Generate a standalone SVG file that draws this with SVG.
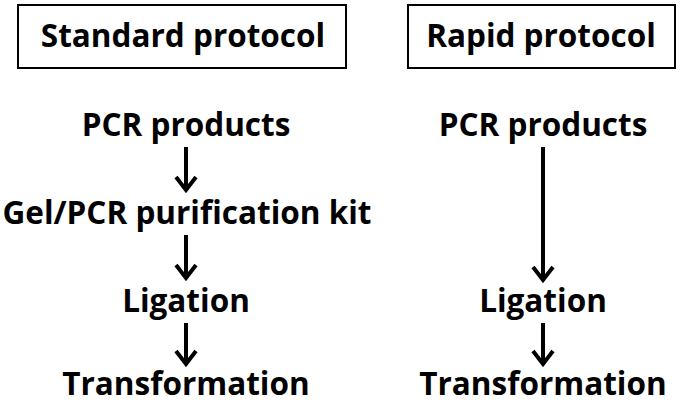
<svg xmlns="http://www.w3.org/2000/svg" width="685" height="405" viewBox="0 0 685 405">
<style>
text{font-family:"Open Sans","Liberation Sans",sans-serif;font-weight:bold;font-size:31.5px;fill:#000;text-anchor:middle}
.box{fill:#fff;stroke:#000;stroke-width:2}
.ln{stroke:#000;stroke-width:4;fill:none}
</style>
<rect width="685" height="405" fill="#fff"/>
<g id="standard-box"><rect class="box" x="18" y="5" width="328" height="63"/><text x="183" y="47">Standard protocol</text></g>
<g id="rapid-box"><rect class="box" x="408" y="5" width="267" height="63"/><text x="541" y="47">Rapid protocol</text></g>
<g id="s-pcr"><text x="186" y="136">PCR products</text></g>
<g id="s-gel"><text x="187" y="224">Gel/PCR purification kit</text></g>
<g id="s-lig"><text x="186" y="312">Ligation</text></g>
<g id="s-trans"><text x="186" y="395">Transformation</text></g>
<g id="r-pcr"><text x="543" y="136">PCR products</text></g>
<g id="r-lig"><text x="543" y="312">Ligation</text></g>
<g id="r-trans"><text x="543" y="395">Transformation</text></g>
<g id="connectors">
<path class="ln" d="M186 147V190M176 177L186 190L196 177"/>
<path class="ln" d="M186 235V278M176 265L186 278L196 265"/>
<path class="ln" d="M186 323V364M176 351L186 364L196 351"/>
<path class="ln" d="M543 147V280M533 267L543 280L553 267"/>
<path class="ln" d="M543 323V364M533 351L543 364L553 351"/>
</g>
</svg>
